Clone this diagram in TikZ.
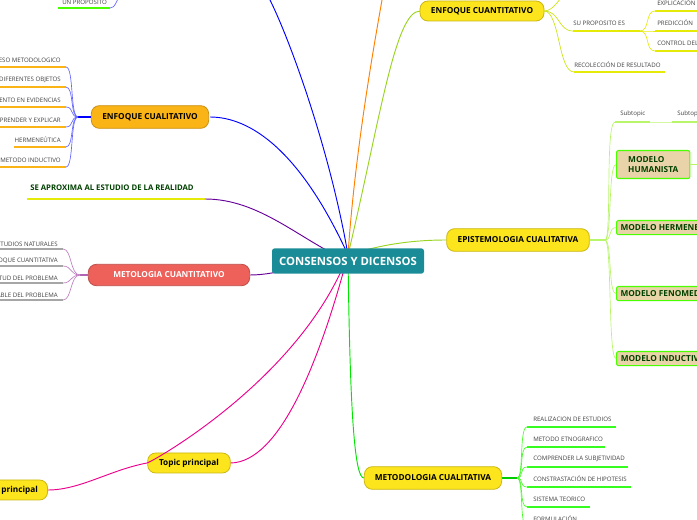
\documentclass[tikz,border=0pt]{standalone}
\usepackage{fontspec}
\setmainfont{Open Sans}
\begin{document}
\begin{tikzpicture}[x=0.75pt,y=-0.75pt,
 leaf/.style={font=\fontsize{4.6}{5}\selectfont,inner sep=0pt,text=black!75},
 topic/.style={rounded corners=6pt,draw=#1!80!black,line width=0.6pt,font=\fontsize{6.2}{7}\selectfont\bfseries},
 model/.style={rounded corners=1.5pt,draw=green!70!yellow,line width=0.8pt,fill=tan1,font=\fontsize{6.2}{7.5}\selectfont\bfseries,text=green!25!black,align=left,anchor=north west,inner sep=3pt},
 con/.style={line width=0.7pt}]
\definecolor{teal1}{HTML}{1A8C97}
\definecolor{yel}{HTML}{FCE51C}
\definecolor{org}{HTML}{FBB416}
\definecolor{redc}{HTML}{EE605A}
\definecolor{lg}{HTML}{B8F56A}
\definecolor{tan1}{HTML}{E8D4A8}
\useasboundingbox (0,0) rectangle (697,520);
\clip (0,0) rectangle (697,520);
\coordinate (c) at (348,261);
\coordinate (cb) at (348,255);
% main connectors
\draw[con,blue] (cb) .. controls (330,150) and (290,40) .. (270,0);
\draw[con,orange] (cb) .. controls (355,150) and (375,40) .. (382,0);
\draw[con,yellow!60!green] (cb) .. controls (380,120) and (395,11) .. (420,11);
% enfoque cuantitativo
\node[topic=yel,fill=yel,minimum width=93pt,minimum height=15pt] (ecn) at (482,11) {ENFOQUE CUANTITATIVO};
\coordinate (ecr) at (544,11);
\draw[yellow!80!green,line width=0.5pt] (ecr) .. controls (555,11) and (560,-5) .. (566,-5);
\draw[yellow!80!green,line width=0.5pt] (ecr) .. controls (560,11) and (558,31) .. (573,31);
\draw[yellow!80!green,line width=0.5pt] (ecr) .. controls (560,11) and (558,72) .. (574,72);
\node[leaf,anchor=west] (sp) at (573,23) {SU PROPOSITO ES};
\draw[yellow!90!green,line width=0.8pt] (573,31) -- (640,31);
\node[leaf,anchor=west] (rr) at (574,65) {RECOLECCIÓN DE RESULTADO};
\draw[yellow!90!green,line width=0.8pt] (574,72) -- (665,72);
\foreach \y/\t/\e in {3/EXPLICACIÓN/697,23/PREDICCIÓN/697,43/CONTROL DEL/697}{
 \node[leaf,anchor=west] at (657,\y) {\t};
 \draw[yellow!90!green,line width=0.5pt] (640,31) .. controls (650,31) and (645,\y+8) .. (655,\y+8);
 \draw[yellow!90!green,line width=0.8pt] (655,\y+8) -- (\e,\y+8);}
% enfoque cualitativo
\draw[con,blue] (cb) .. controls (300,150) and (250,117) .. (210,117);
\node[topic=org,fill=org,minimum width=88pt,minimum height=17pt] (ecl) at (150,117) {ENFOQUE CUALITATIVO};
\draw[blue,line width=1.2pt] (ecl.west) -- (78,117);
\foreach \y/\t/\s in {60/ESO METODOLOGICO/0,80/DIFERENTES OBJETOS/0,100/ENTO EN EVIDENCIAS/0,120/PRENDER Y EXPLICAR/0,140/HERMENEÚTICA/14,160/METODO INDUCTIVO/0}{
 \node[leaf,anchor=east] at (61,\y) {\t};
 \draw[org,line width=0.8pt] (\s,\y+7) -- (66,\y+7);
 \draw[blue!60,line width=0.5pt] (78,117) .. controls (70,117) and (74,\y+7) .. (66,\y+7);}
% un proposito
\node[leaf,anchor=west] (up) at (62,2) {UN PROPOSITO};
\draw[green!70!yellow,line width=0.8pt] (58,8) -- (110,8);
\draw[blue!60,line width=0.5pt] (110,8) .. controls (116,8) and (116,0) .. (120,-4);
% se aproxima
\node[anchor=west,inner sep=0pt,font=\fontsize{5.8}{7}\selectfont\bfseries,text=green!25!black] (sa) at (30,188) {SE APROXIMA AL ESTUDIO DE LA REALIDAD};
\draw[yellow!90!green,line width=0.8pt] (27,199) -- (205,199);
\draw[con,violet!80!blue] (c) .. controls (300,240) and (260,199) .. (205,199);
% metologia cuantitativo
\draw[con,violet!80!blue] (cb) .. controls (310,262) and (280,275) .. (250,275);
\node[topic=redc,fill=redc,text=white,minimum width=121pt,minimum height=16pt] (mc) at (169,275) {METOLOGIA CUANTITATIVO};
\draw[violet!60,line width=1.2pt] (mc.west) -- (80,275);
\foreach \y/\t in {244/STUDIOS NATURALES,261/DOQUE CUANTITATIVA,278/ITUD DEL PROBLEMA,295/ABLE DEL PROBLEMA}{
 \node[leaf,anchor=east] at (58,\y) {\t};
 \draw[gray!70,line width=0.8pt] (0,\y+5) -- (63,\y+5);
 \draw[violet!50,line width=0.5pt] (80,275) .. controls (70,275) and (72,\y+5) .. (63,\y+5);}
% topic principal
\draw[con,magenta] (cb) .. controls (320,360) and (280,463) .. (230,463);
\node[topic=yel,fill=yel,minimum width=62pt,minimum height=15pt] (tp) at (189,463) {Topic principal};
\draw[con,magenta] (cb) .. controls (300,380) and (150,463) .. (147,463) .. controls (110,470) and (80,490) .. (48,490);
\node[topic=yel,fill=yel,minimum width=60pt,minimum height=15pt,anchor=east] (pr) at (48,490) {\hspace*{18pt}principal};
% epistemologia
\draw[con,yellow!60!green] (cb) .. controls (380,245) and (410,240) .. (447,240);
\node[topic=yel,fill=yel,minimum width=107pt,minimum height=17pt] (ep) at (518,240) {EPISTEMOLOGIA CUALITATIVA};
\draw[lg,line width=1.2pt] (ep.east) -- (605,240);
\node[leaf,anchor=west] (s1) at (620,114) {Subtopic};
\draw[lg,line width=0.8pt] (615,122) -- (650,122);
\draw[lg!60,line width=0.5pt] (650,122) -- (672,122);
\node[leaf,anchor=west] (s2) at (677,114) {Subtopic};
\draw[lg,line width=0.8pt] (672,122) -- (697,122);
\draw[lg,line width=0.5pt] (605,240) .. controls (612,240) and (605,122) .. (615,122);
\node[model,minimum width=55pt,minimum height=21pt] (m1) at (616,150) {MODELO\\HUMANISTA};
\draw[lg,line width=0.5pt] (690,164) -- (697,164);
\node[model,minimum width=70pt] (m2) at (616,220) {MODELO HERMENEUTICO};
\node[model,minimum width=70pt] (m3) at (616,286) {MODELO FENOMEDOLOGICO};
\node[model,minimum width=70pt] (m4) at (616,351) {MODELO INDUCTIVO};
\foreach \n in {m1,m2,m3,m4}{
 \draw[lg,line width=0.5pt] (605,240) .. controls (612,240) and (608,0|-\n.west) .. (\n.west);}
% metodologia cualitativa
\draw[con,green!90!black] (cb) .. controls (350,420) and (355,478) .. (364,478);
\node[topic=yel,fill=yel,minimum width=103pt,minimum height=17pt] (mq) at (433,478) {METODOLOGIA CUALITATIVA};
\draw[green!80!black,line width=1.2pt] (mq.east) -- (517,478);
\foreach \y/\t/\e in {419/REALIZACION DE ESTUDIOS/616,439/METODO ETNOGRAFICO/605,459/COMPRENDER LA SUBJETIVIDAD/628,479/CONSTRASTACIÓN DE HIPOTESIS/631,499/SISTEMA TEORICO/590,519/FORMULACIÓN/600}{
 \node[leaf,anchor=west] at (533,\y) {\t};
 \draw[green!70!lg,line width=0.8pt] (527,\y+8) -- (\e,\y+8);
 \draw[green!60!lg,line width=0.5pt] (517,478) .. controls (524,478) and (519,\y+8) .. (527,\y+8);}
% central (drawn last)
\node[fill=teal1,rounded corners=2pt,minimum width=114pt,minimum height=19pt,text=white,font=\fontsize{8.5}{10}\selectfont\bfseries] (cn) at (c) {CONSENSOS Y DICENSOS};
\end{tikzpicture}
\end{document}
